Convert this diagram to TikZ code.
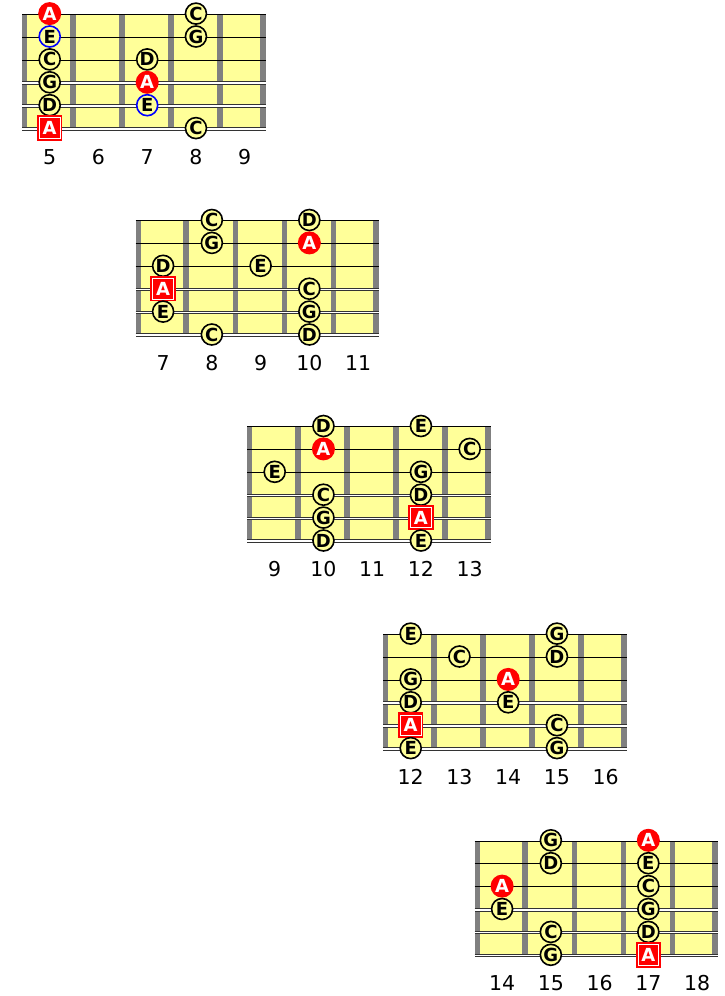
\documentclass[tikz,border=0pt]{standalone}
\usepackage{fontspec}
\setmainfont{DejaVu Sans}
\definecolor{boardyellow}{HTML}{FFFF99}
\definecolor{notefill}{HTML}{FFFF99}
\definecolor{fretgrey}{HTML}{808080}
\tikzset{
  thinstr/.style={draw=black, line width=1pt},
  woundout/.style={draw=black!80, line width=3.6pt},
  woundin/.style={draw=white, line width=1.6pt},
  fretnum/.style={inner sep=0pt, font=\fontsize{20.5}{22}\selectfont},
  notebase/.style={inner sep=0pt, font=\fontsize{18}{18}\selectfont\bfseries},
  nt/.style={notebase, circle, draw=black, line width=1.6pt, fill=notefill, minimum size=21pt},
  bl/.style={nt, draw=blue},
  rd/.style={notebase, circle, fill=red, text=white, minimum size=23pt},
  rt/.style={notebase, rectangle, fill=red, draw=white, line width=0.9pt, text=white,
     minimum size=20.5pt, preaction={draw=red, line width=5pt}},
}
\newcommand{\drawboard}[2]{%
  \fill[boardyellow] (0,0) rectangle (243.4,114.5);
  \foreach \bx/\bw in {0/5,47.7/5.7,97/5.7,146/5.5,195/5.5,237.7/5.7}
    \fill[fretgrey] (\bx,0) rectangle ++(\bw,114.5);
  \foreach \s in {0,1,2} \draw[thinstr] (0,{22.9*\s}) -- (243.4,{22.9*\s});
  \foreach \s in {3,4,5} {
    \draw[woundout] (0,{22.9*\s}) -- (243.4,{22.9*\s});
    \draw[woundin] (0,{22.9*\s}) -- (243.4,{22.9*\s});
  }
  \foreach \k in {0,...,4} {
    \pgfmathtruncatemacro{\fn}{#2+\k}
    \node[fretnum] (#1n\k) at ({27.4+48.75*\k},142.5) {\fn};
  }
}
\newcommand{\putnote}[5]{%
  \node[#1] (#2k#3s#4) at ({27.4+48.75*#3},{22.9*(#4-1)-0.7}) {#5};}
\begin{document}
\begin{tikzpicture}[x=1pt,y=-1pt]
\useasboundingbox (0,0) rectangle (724,996);
\fill[white] (0,0) rectangle (724,996);
% Diagram 1
\begin{scope}[shift={(22.3,14.3)}]
  \drawboard{da}{5}
  \putnote{rd}{da}{0}{1}{A}
  \putnote{bl}{da}{0}{2}{E}
  \putnote{nt}{da}{0}{3}{C}
  \putnote{nt}{da}{0}{4}{G}
  \putnote{nt}{da}{0}{5}{D}
  \putnote{rt}{da}{0}{6}{A}
  \putnote{nt}{da}{2}{3}{D}
  \putnote{rd}{da}{2}{4}{A}
  \putnote{bl}{da}{2}{5}{E}
  \putnote{nt}{da}{3}{1}{C}
  \putnote{nt}{da}{3}{2}{G}
  \putnote{nt}{da}{3}{6}{C}
\end{scope}
% Diagram 2
\begin{scope}[shift={(135.7,220.7)}]
  \drawboard{db}{7}
  \putnote{nt}{db}{0}{3}{D}
  \putnote{rt}{db}{0}{4}{A}
  \putnote{nt}{db}{0}{5}{E}
  \putnote{nt}{db}{1}{1}{C}
  \putnote{nt}{db}{1}{2}{G}
  \putnote{nt}{db}{1}{6}{C}
  \putnote{nt}{db}{2}{3}{E}
  \putnote{nt}{db}{3}{1}{D}
  \putnote{rd}{db}{3}{2}{A}
  \putnote{nt}{db}{3}{4}{C}
  \putnote{nt}{db}{3}{5}{G}
  \putnote{nt}{db}{3}{6}{D}
\end{scope}
% Diagram 3
\begin{scope}[shift={(247.3,426.7)}]
  \drawboard{dc}{9}
  \putnote{nt}{dc}{0}{3}{E}
  \putnote{nt}{dc}{1}{1}{D}
  \putnote{rd}{dc}{1}{2}{A}
  \putnote{nt}{dc}{1}{4}{C}
  \putnote{nt}{dc}{1}{5}{G}
  \putnote{nt}{dc}{1}{6}{D}
  \putnote{nt}{dc}{3}{1}{E}
  \putnote{nt}{dc}{3}{3}{G}
  \putnote{nt}{dc}{3}{4}{D}
  \putnote{rt}{dc}{3}{5}{A}
  \putnote{nt}{dc}{3}{6}{E}
  \putnote{nt}{dc}{4}{2}{C}
\end{scope}
% Diagram 4
\begin{scope}[shift={(383.3,634.3)}]
  \drawboard{dd}{12}
  \putnote{nt}{dd}{0}{1}{E}
  \putnote{nt}{dd}{0}{3}{G}
  \putnote{nt}{dd}{0}{4}{D}
  \putnote{rt}{dd}{0}{5}{A}
  \putnote{nt}{dd}{0}{6}{E}
  \putnote{nt}{dd}{1}{2}{C}
  \putnote{rd}{dd}{2}{3}{A}
  \putnote{nt}{dd}{2}{4}{E}
  \putnote{nt}{dd}{3}{1}{G}
  \putnote{nt}{dd}{3}{2}{D}
  \putnote{nt}{dd}{3}{5}{C}
  \putnote{nt}{dd}{3}{6}{G}
\end{scope}
% Diagram 5
\begin{scope}[shift={(474.7,841)}]
  \drawboard{de}{14}
  \putnote{rd}{de}{0}{3}{A}
  \putnote{nt}{de}{0}{4}{E}
  \putnote{nt}{de}{1}{1}{G}
  \putnote{nt}{de}{1}{2}{D}
  \putnote{nt}{de}{1}{5}{C}
  \putnote{nt}{de}{1}{6}{G}
  \putnote{rd}{de}{3}{1}{A}
  \putnote{nt}{de}{3}{2}{E}
  \putnote{nt}{de}{3}{3}{C}
  \putnote{nt}{de}{3}{4}{G}
  \putnote{nt}{de}{3}{5}{D}
  \putnote{rt}{de}{3}{6}{A}
\end{scope}
\end{tikzpicture}
\end{document}
